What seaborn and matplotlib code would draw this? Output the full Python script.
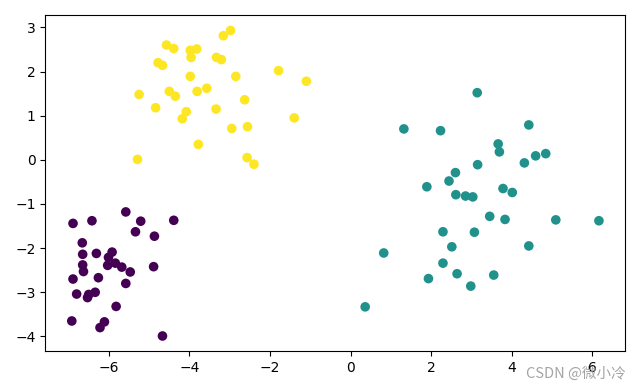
import numpy as np
import pandas as pd
import matplotlib
matplotlib.use("Agg")
import matplotlib.pyplot as plt
import seaborn as sns

# 三个簇的坐标
x0 = [-6.89, -6.42, -5.58, -5.21, -4.39, -5.34, -4.87, -6.66, -6.65, -6.31,
      -5.92, -6.01, -5.84, -6.03, -5.68, -5.47, -4.89, -6.65, -6.63, -6.26,
      -6.89, -5.58, -6.80, -6.34, -6.50, -6.53, -5.82, -6.92, -6.11, -6.22,
      -4.67]
y0 = [-1.44, -1.38, -1.18, -1.39, -1.37, -1.63, -1.73, -1.88, -2.14, -2.12,
      -2.09, -2.21, -2.34, -2.39, -2.43, -2.54, -2.42, -2.38, -2.53, -2.67,
      -2.70, -2.80, -3.04, -3.00, -3.05, -3.12, -3.32, -3.65, -3.67, -3.80,
      -3.99]

x1 = [3.14, 1.32, 2.23, 4.42, 3.66, 3.69, 4.59, 4.84, 4.31, 3.15,
      2.60, 2.44, 1.89, 2.61, 2.85, 3.03, 3.78, 4.01, 3.45, 3.83,
      5.09, 6.16, 2.29, 3.07, 2.51, 4.42, 0.82, 2.29, 1.93, 2.64,
      3.55, 2.98, 0.36]
y1 = [1.52, 0.70, 0.66, 0.79, 0.36, 0.18, 0.09, 0.14, -0.07, -0.11,
      -0.29, -0.48, -0.61, -0.79, -0.82, -0.84, -0.65, -0.74, -1.28, -1.35,
      -1.36, -1.38, -1.63, -1.64, -1.97, -1.95, -2.11, -2.34, -2.69, -2.58,
      -2.61, -2.86, -3.33]

x2 = [-2.98, -3.16, -4.57, -4.39, -3.98, -3.82, -3.96, -3.33, -3.21, -4.78,
      -4.67, -3.98, -2.85, -1.79, -1.10, -5.25, -4.50, -4.35, -3.81, -3.57,
      -2.63, -4.84, -4.08, -4.18, -3.34, -1.40, -2.95, -2.56, -3.78, -5.29,
      -2.57, -2.40]
y2 = [2.93, 2.81, 2.60, 2.52, 2.48, 2.51, 2.32, 2.32, 2.27, 2.20,
      2.14, 1.89, 1.89, 2.02, 1.78, 1.48, 1.55, 1.44, 1.55, 1.62,
      1.36, 1.18, 1.09, 0.93, 1.15, 0.95, 0.71, 0.75, 0.35, 0.01,
      0.05, -0.10]

df = pd.DataFrame({
    "x": x0 + x1 + x2,
    "y": y0 + y1 + y2,
    "label": [0] * len(x0) + [1] * len(x1) + [2] * len(x2),
})

fig = plt.figure(figsize=(6.4, 3.89), dpi=100)
ax = fig.add_axes([0.071, 0.097, 0.906, 0.864])

sns.scatterplot(data=df, x="x", y="y", hue="label", palette="viridis",
                s=48, linewidth=0, legend=False, ax=ax)
ax.set_xlabel("")
ax.set_ylabel("")

# 水印 (原图中就压在刻度 6 上)
fig.text(0.978, 0.04, "CSDN @微小冷", ha="right", va="center", fontsize=10.5,
         color="#9a9a9a", alpha=0.9,
         family=["Noto Sans CJK SC", "DejaVu Sans"])

fig.savefig("out.png", dpi=100)
